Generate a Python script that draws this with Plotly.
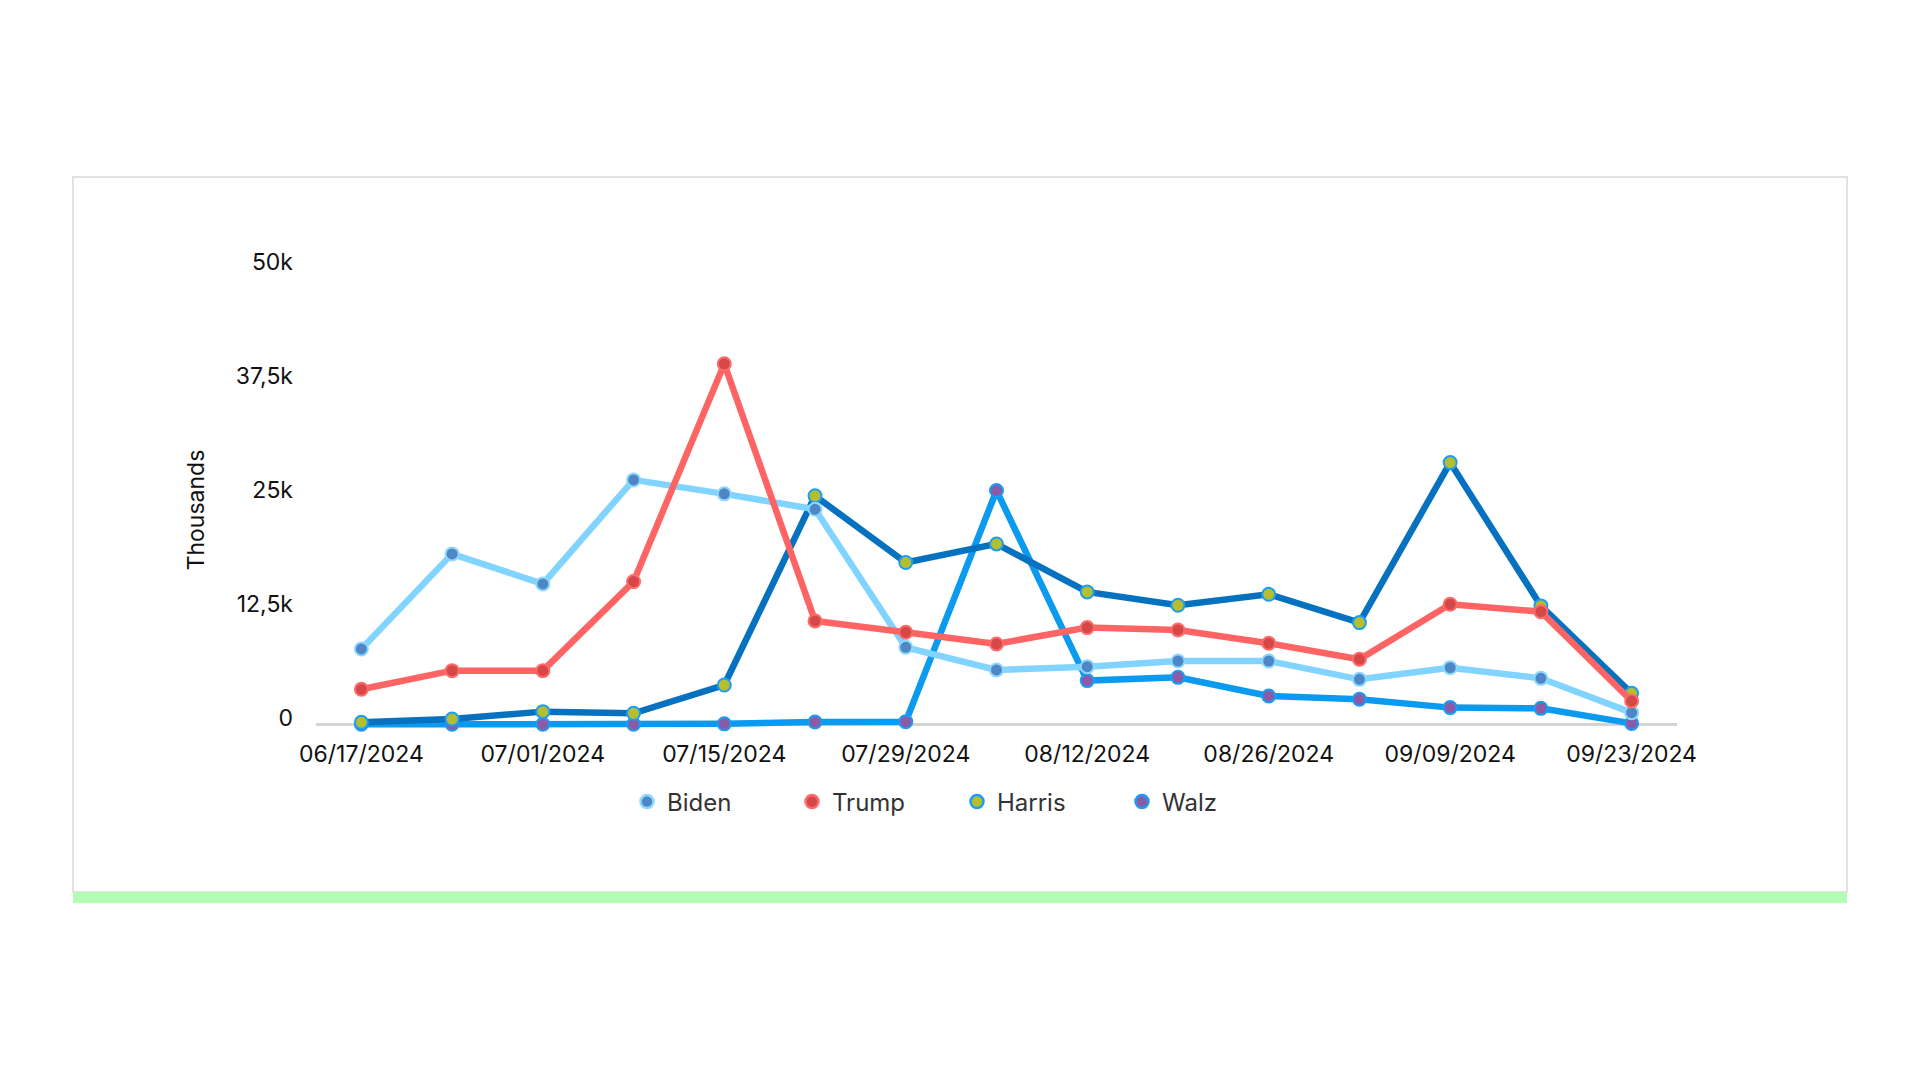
import plotly.graph_objects as go

# ---- data ----
weeks = ["2024-06-17", "2024-06-24", "2024-07-01", "2024-07-08", "2024-07-15",
         "2024-07-22", "2024-07-29", "2024-08-05", "2024-08-12", "2024-08-19",
         "2024-08-26", "2024-09-02", "2024-09-09", "2024-09-16", "2024-09-23"]
biden = [8260, 18680, 15390, 26790, 25260, 23570, 8440, 5960, 6320, 6940, 6940, 4930, 6210, 5040, 1280]
trump = [3840, 5880, 5880, 15640, 39510, 11330, 10090, 8810, 10600, 10340, 8880, 7130, 13160, 12350, 2560]
harris = [220, 580, 1390, 1210, 4310, 25040, 17730, 19770, 14510, 13050, 14250, 11150, 28690, 12980, 3400]
walz = [0, 0, 0, 0, 50, 250, 290, 25620, 4790, 5150, 3110, 2740, 1830, 1750, 100]

x_tickvals = ["2024-06-17", "2024-07-01", "2024-07-15", "2024-07-29",
              "2024-08-12", "2024-08-26", "2024-09-09", "2024-09-23"]
x_ticktext = ["06/17/2024", "07/01/2024", "07/15/2024", "07/29/2024",
              "08/12/2024", "08/26/2024", "09/09/2024", "09/23/2024"]
y_tickvals = [0, 12500, 25000, 37500, 50000]
y_ticktext = ["0", "12,5k", "25k", "37,5k", "50k"]

FONT = "Inter"

series = [
    # name, values, line color, marker fill, marker border
    ("Walz", walz, "#0a9af0", "#8a5ca8", "#1a9cf5"),
    ("Harris", harris, "#0672bf", "#b3bf2e", "#1e9df5"),
    ("Biden", biden, "#80d4ff", "#4f86c6", "#8ad8ff"),
    ("Trump", trump, "#ff6464", "#d64848", "#ff6a6a"),
]

fig = go.Figure()
for name, vals, lc, mf, mb in series:
    fig.add_trace(go.Scatter(
        x=weeks, y=vals, mode="lines+markers", name=name, showlegend=False,
        line=dict(color=lc, width=6.5),
        marker=dict(size=13, color=mf, line=dict(color=mb, width=2)),
        cliponaxis=False,
    ))

style = {n: (mf, mb) for n, _, _, mf, mb in series}
for name in ["Biden", "Trump", "Harris", "Walz"]:
    mf, mb = style[name]
    fig.add_trace(go.Scatter(
        x=[None], y=[None], mode="markers", name=name,
        marker=dict(size=13, color=mf, line=dict(color=mb, width=2.5)),
    ))

# card outline and green bottom bar
fig.add_shape(type="rect", xref="paper", yref="paper",
              x0=-0.17855, x1=1.12491, y0=-0.32150, y1=1.17119,
              line=dict(color="#e2e2e2", width=2), fillcolor="rgba(0,0,0,0)", layer="below")
fig.add_shape(type="rect", xref="paper", yref="paper",
              x0=-0.17855, x1=1.12491, y0=-0.34447, y1=-0.32150,
              line=dict(width=0), fillcolor="#b4fdb4", layer="below")

fig.add_annotation(text="Thousands", xref="paper", yref="paper",
                   x=-0.0879, y=0.476, xanchor="center", yanchor="middle",
                   textangle=-90, showarrow=False,
                   font=dict(family=FONT, size=23, color="#111111"))

fig.update_layout(
    width=1920, height=1080,
    paper_bgcolor="white", plot_bgcolor="white",
    margin=dict(l=316, r=243, t=259, b=342),
    font=dict(family=FONT, color="#111111"),
    legend=dict(orientation="h", x=0.2285, xanchor="left", y=-0.1336, yanchor="middle",
                font=dict(family=FONT, size=24, color="#333333"),
                entrywidth=120, entrywidthmode="pixels", bgcolor="rgba(0,0,0,0)"),
    xaxis=dict(type="date", range=["2024-06-13 12:00", "2024-09-26 12:00"],
               tickvals=x_tickvals, ticktext=x_ticktext, showgrid=False,
               showline=False, zeroline=False, ticks="",
               tickfont=dict(family=FONT, size=23, color="#111111")),
    yaxis=dict(range=[-1500, 51000], tickvals=y_tickvals, ticktext=y_ticktext,
               showgrid=False, showline=False, zeroline=True,
               zerolinecolor="#d4d4d4", zerolinewidth=3, ticks="",
               ticklabelstandoff=22, ticklabelshift=-6,
               tickfont=dict(family=FONT, size=23, color="#111111")),
    hovermode=False,
)

fig.write_html("out.html")
